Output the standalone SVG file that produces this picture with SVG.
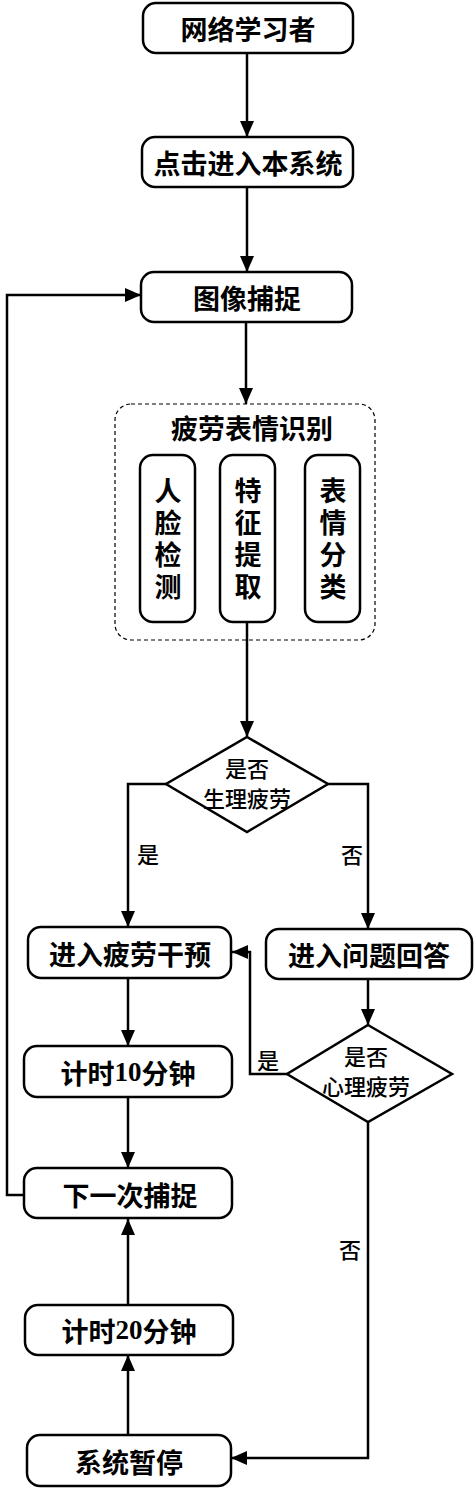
<svg xmlns="http://www.w3.org/2000/svg" width="474" height="1489" viewBox="0 0 474 1489">
<style>
.box{fill:#fff;stroke:#000;stroke-width:2.5}
.dash{fill:none;stroke:#000;stroke-width:1.2;stroke-dasharray:4 3}
.t{font-family:"Noto Sans CJK SC","Liberation Serif",sans-serif;font-size:27px;font-weight:bold;text-anchor:middle;dominant-baseline:central;fill:#000}
.v{font-family:"Noto Sans CJK SC","Liberation Serif",sans-serif;font-size:27px;font-weight:bold;text-anchor:middle;dominant-baseline:central;fill:#000;writing-mode:vertical-rl;letter-spacing:5px}
.s{font-family:"Noto Sans CJK SC","Liberation Serif",sans-serif;font-size:22px;font-weight:500;text-anchor:middle;dominant-baseline:central;fill:#000}
.n{font-family:"Liberation Serif",serif;font-weight:bold}
.c{fill:none;stroke:#000;stroke-width:2.5}
</style>
<defs>
<marker id="ah" markerUnits="userSpaceOnUse" markerWidth="16" markerHeight="14" refX="16" refY="7" orient="auto">
<path d="M0,0 L16,7 L0,14 z" fill="#000"/>
</marker>
</defs>
<g id="connectors">
<line class="c" x1="247" y1="53" x2="247" y2="137" marker-end="url(#ah)"/>
<line class="c" x1="247" y1="187" x2="247" y2="272" marker-end="url(#ah)"/>
<line class="c" x1="246" y1="322" x2="246" y2="404" marker-end="url(#ah)"/>
<line class="c" x1="247" y1="622" x2="247" y2="737" marker-end="url(#ah)"/>
<polyline class="c" points="166,784 128,784 128,927" marker-end="url(#ah)"/>
<polyline class="c" points="328,784 368,784 368,929" marker-end="url(#ah)"/>
<line class="c" x1="368" y1="979" x2="368" y2="1025" marker-end="url(#ah)"/>
<polyline class="c" points="287,1074 250,1074 250,952 232,952" marker-end="url(#ah)"/>
<line class="c" x1="128" y1="978" x2="128" y2="1046" marker-end="url(#ah)"/>
<line class="c" x1="128" y1="1097" x2="128" y2="1168" marker-end="url(#ah)"/>
<polyline class="c" points="24,1195 7,1195 7,295 141,295" marker-end="url(#ah)"/>
<line class="c" x1="128" y1="1305" x2="128" y2="1219" marker-end="url(#ah)"/>
<line class="c" x1="128" y1="1435" x2="128" y2="1355" marker-end="url(#ah)"/>
<polyline class="c" points="368,1122 368,1458 231,1458" marker-end="url(#ah)"/>
</g>
<g id="n1"><rect class="box" x="143" y="3" width="210" height="50" rx="13"/><text class="t" x="248" y="28">网络学习者</text></g>
<g id="n2"><rect class="box" x="142" y="137" width="211" height="50" rx="13"/><text class="t" x="248" y="162">点击进入本系统</text></g>
<g id="n3"><rect class="box" x="141" y="272" width="211" height="50" rx="13"/><text class="t" x="247" y="297">图像捕捉</text></g>
<g id="group-fatigue"><rect class="dash" x="115" y="404" width="260" height="236" rx="16"/><text class="t" x="252" y="427">疲劳表情识别</text></g>
<g id="n4"><rect class="box" x="140" y="455" width="55" height="167" rx="13"/><text class="v" x="168" y="541">人脸检测</text></g>
<g id="n5"><rect class="box" x="220" y="455" width="55" height="167" rx="13"/><text class="v" x="248" y="541">特征提取</text></g>
<g id="n6"><rect class="box" x="305" y="455" width="55" height="167" rx="13"/><text class="v" x="333" y="541">表情分类</text></g>
<g id="d1"><polygon class="box" points="247,737 328,784 247,832 166,784"/><text class="s" x="247" y="767">是否</text><text class="s" x="247" y="797">生理疲劳</text></g>
<g id="n7"><rect class="box" x="28" y="927" width="203" height="51" rx="13"/><text class="t" x="130" y="953">进入疲劳干预</text></g>
<g id="n8"><rect class="box" x="266" y="929" width="206" height="50" rx="13"/><text class="t" x="369" y="954">进入问题回答</text></g>
<g id="d2"><polygon class="box" points="368,1025 452,1074 368,1122 287,1074"/><text class="s" x="366" y="1055">是否</text><text class="s" x="366" y="1085">心理疲劳</text></g>
<g id="n9"><rect class="box" x="24" y="1046" width="208" height="51" rx="13"/><text class="t" x="128" y="1072">计时<tspan class="n">10</tspan>分钟</text></g>
<g id="n10"><rect class="box" x="24" y="1168" width="208" height="50" rx="13"/><text class="t" x="130" y="1194">下一次捕捉</text></g>
<g id="n11"><rect class="box" x="25" y="1305" width="208" height="50" rx="13"/><text class="t" x="129" y="1330">计时<tspan class="n">20</tspan>分钟</text></g>
<g id="n12"><rect class="box" x="27" y="1435" width="204" height="51" rx="13"/><text class="t" x="129" y="1461">系统暂停</text></g>
<g id="labels">
<text class="s" x="148" y="853">是</text>
<text class="s" x="352" y="853">否</text>
<text class="s" x="268" y="1059">是</text>
<text class="s" x="350" y="1248">否</text>
</g>
</svg>
